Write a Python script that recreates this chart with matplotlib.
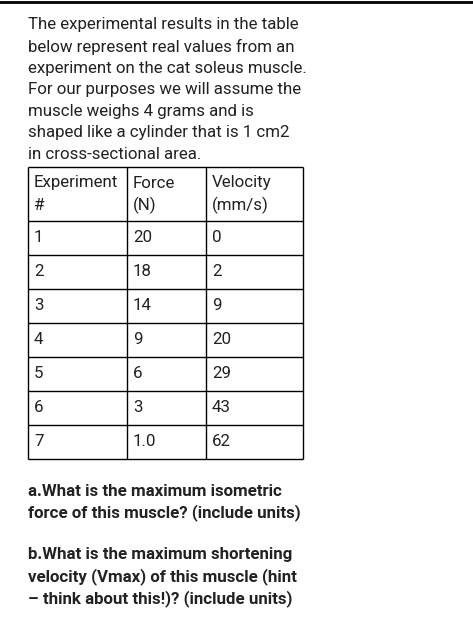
import matplotlib
matplotlib.use("Agg")
import matplotlib.pyplot as plt

W, H = 473, 621

intro = ["The experimental results in the table",
         "below represent real values from an",
         "experiment on the cat soleus muscle.",
         "For our purposes we will assume the",
         "muscle weighs 4 grams and is",
         "shaped like a cylinder that is 1 cm2",
         "in cross-sectional area."]
headers = [["Experiment", "#"], ["Force", "(N)"], ["Velocity", "(mm/s)"]]
experiment = ["1", "2", "3", "4", "5", "6", "7"]
force = ["20", "18", "14", "9", "6", "3", "1.0"]
velocity = ["0", "2", "9", "20", "29", "43", "62"]
questions = [["a.What is the maximum isometric", "force of this muscle? (include units)"],
             ["b.What is the maximum shortening", "velocity (Vmax) of this muscle (hint",
              "\u2013 think about this!)? (include units)"]]

plt.rcParams["font.family"] = ["Roboto", "DejaVu Sans"]
fig = plt.figure(figsize=(W / 100, H / 100), dpi=100)
ax = fig.add_axes([0, 0, 1, 1])
ax.set_xlim(0, W)
ax.set_ylim(H, 0)
ax.axis("off")

ax.plot([0, W], [1.5, 1.5], color="black", lw=2)
fs = 12.2
col = "#222222"
for i, line in enumerate(intro):
    ax.text(28, 25 + i * 21.6, line, fontsize=fs, color=col, va="center")

cols = [28, 127, 206, 303]
top, hdr = 167, 221
rows = [hdr + i * 34 for i in range(len(experiment) + 1)]
ax.vlines(cols, top, rows[-1], color="black", lw=1)
ax.hlines([top] + rows, cols[0], cols[-1], color="black", lw=1)
for j, h in enumerate(headers):
    for k, t in enumerate(h):
        ax.text(cols[j] + 6, 183 + k * 22, t, fontsize=fs, color=col, va="center")
for i, vals in enumerate(zip(experiment, force, velocity)):
    for j, v in enumerate(vals):
        ax.text(cols[j] + 6, rows[i] + 17, v, fontsize=fs, color=col, va="center")

y = 491
for q in questions:
    for line in q:
        ax.text(28, y, line, fontsize=fs, color=col, va="center", fontweight="bold")
        y += 22
    y += 20

fig.savefig("out.png", dpi=100)
